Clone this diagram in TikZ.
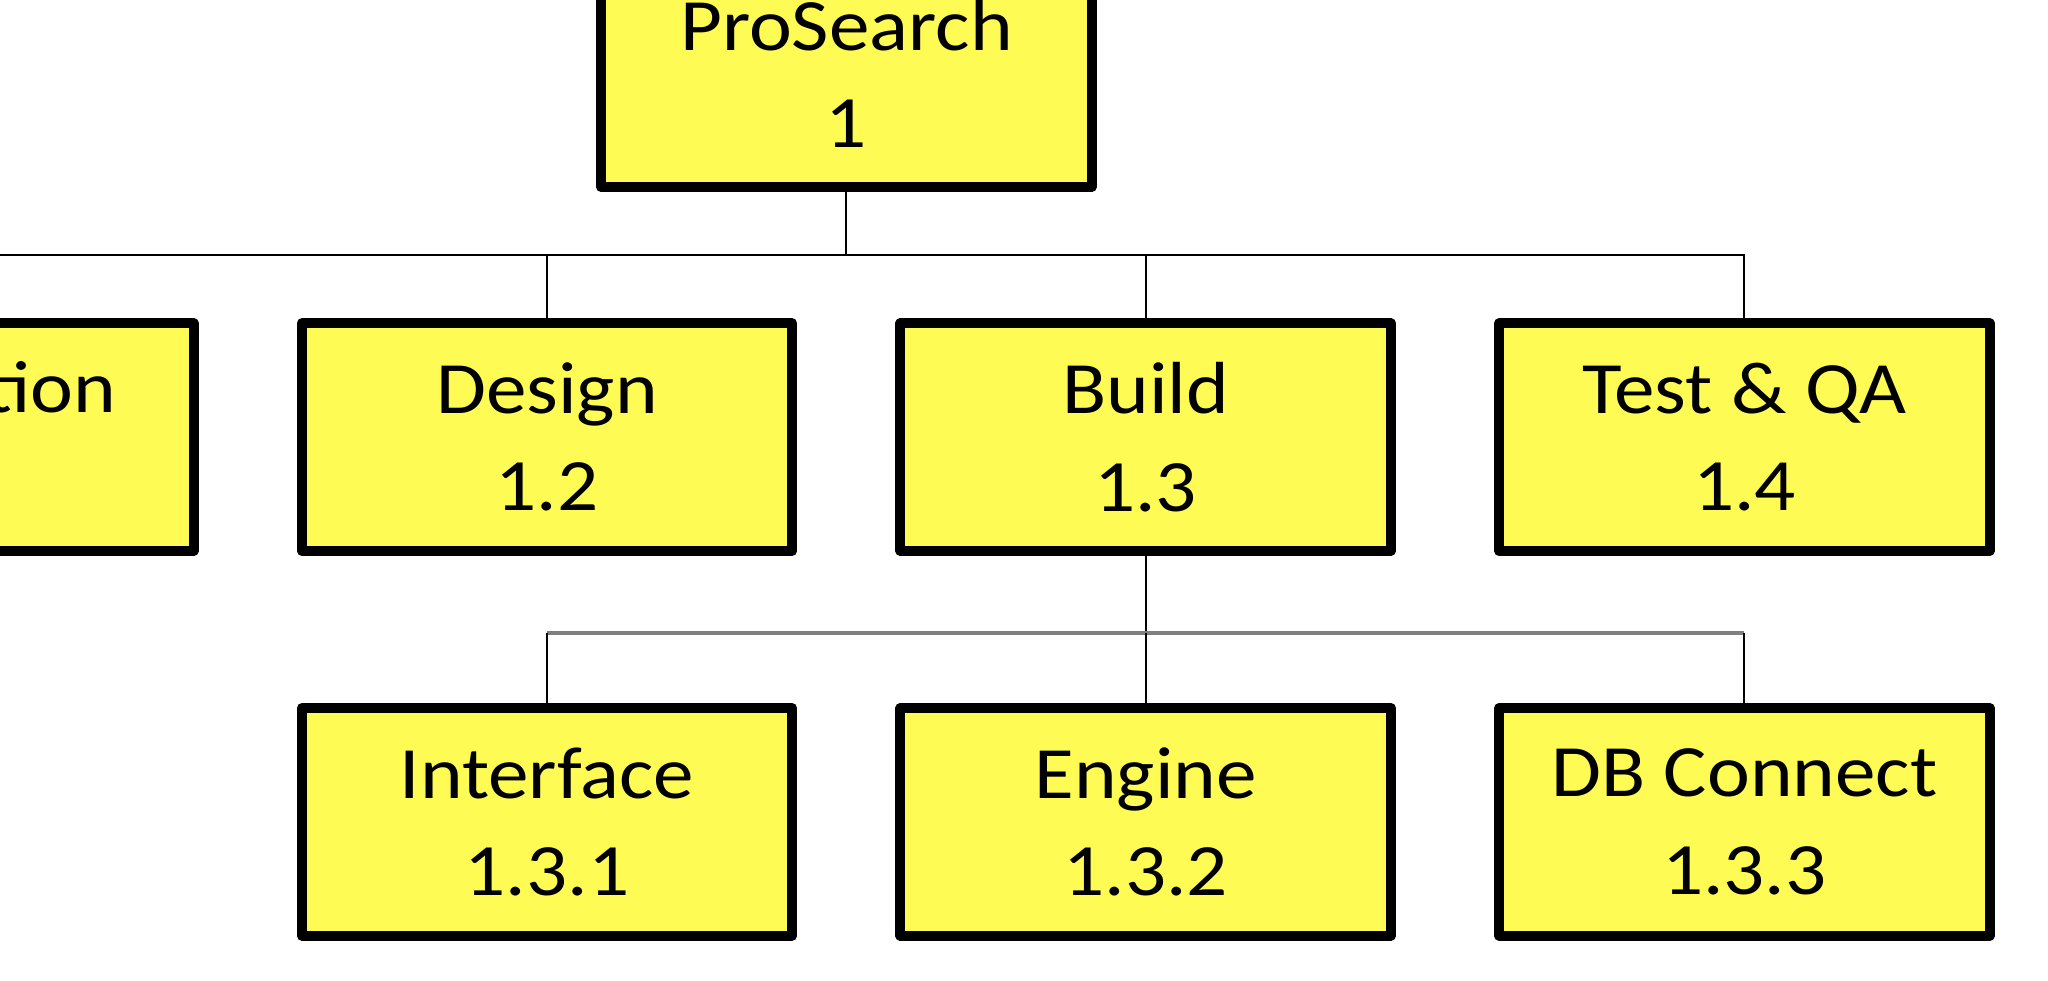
\documentclass[tikz,border=0pt]{standalone}
\usepackage{fontspec}
\setmainfont{Carlito}[FakeStretch=1.1]
\usepackage{xcolor}
\definecolor{wbsyellow}{HTML}{FFFB55}
\definecolor{outline}{HTML}{000000}
\definecolor{busgray}{HTML}{7F7F7F}
\tikzset{
    % Work package box style
    wbs box/.style={
        rectangle,
        minimum width=4.905cm,
        minimum height=2.275cm,
        align=center,
        font=\fontsize{21}{27.7}\selectfont,
        draw=outline,
        fill=wbsyellow,
        line width=1mm,
        line join=round,
        inner sep=2pt
    },
    % Bare box text
    wbs text/.style={
        font=\fontsize{21}{27.7}\selectfont,
        inner sep=0pt
    },
    % Connector styles
    link/.style={
        draw=black,
        line width=0.6pt
    },
    sub bus/.style={
        draw=busgray,
        line width=0.9pt
    }
}

\begin{document}
\begin{tikzpicture}

        % Canvas
        \useasboundingbox (0,0) rectangle (20.48,-9.8);
        \clip (0,0) rectangle (20.48,-9.8);

        % Top level
        \node[wbs box] (root) at (8.463,-0.733) {ProSearch\\1};

        % Second level
        \node[wbs box] (defn) at (-0.517,-4.372) {};
        \node[wbs text, anchor=base east] (defntext) at (1.17,-4.127) {tion};
        \node[wbs box] (design) at (5.47,-4.372) {Design\\1.2};
        \node[wbs box] (build) at (11.457,-4.372) {Build\\1.3};
        \node[wbs box] (test) at (17.444,-4.372) {Test \& QA\\1.4};

        % Third level
        \node[wbs box] (iface) at (5.47,-8.218) {Interface\\1.3.1};
        \node[wbs box] (engine) at (11.457,-8.218) {Engine\\1.3.2};
        \node[wbs box] (dbconn) at (17.444,-8.218) {DB Connect\\1.3.3};

        % Bus points
        \coordinate (bus1) at (8.463,-2.55);
        \coordinate (bus2) at (11.457,-6.33);

        % Connections to second level
        \draw[link] (root.south) -- (bus1);
        \draw[link] (defn.north) |- (bus1) -| (test.north);
        \foreach \n in {design,build}
            \draw[link] (\n.north) -- (\n.north |- bus1);

        % Connections to third level
        \draw[link] (build.south) -- (bus2);
        \draw[sub bus] (iface.north |- bus2) -- (dbconn.north |- bus2);
        \foreach \n in {iface,engine,dbconn}
            \draw[link] (\n.north |- bus2) -- (\n.north);

\end{tikzpicture}
\end{document}
